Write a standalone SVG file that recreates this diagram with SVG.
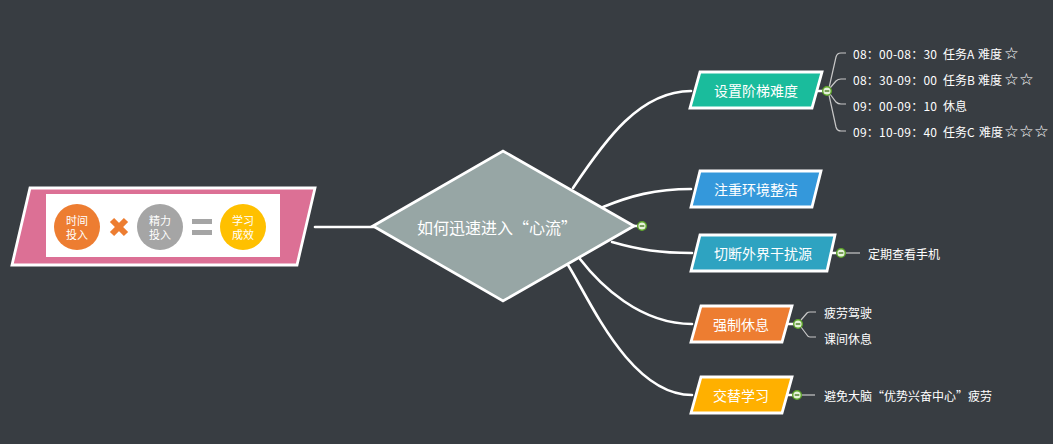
<svg xmlns="http://www.w3.org/2000/svg" width="1053" height="444" viewBox="0 0 1053 444">
<defs>
<style>
.bg{fill:#383d42}
.conn{fill:none;stroke:#ffffff;stroke-width:2.6;stroke-linecap:round}
.sub{fill:none;stroke:#c8c8c8;stroke-width:1.2}
.node{stroke:#ffffff;stroke-width:2.8;stroke-linejoin:miter}
.lbl{font-family:"Noto Sans CJK SC","Liberation Sans",sans-serif;font-size:14px;fill:#ffffff;text-anchor:middle;dominant-baseline:central}
.big{font-size:16px}
.leaf{font-family:"Noto Sans CJK SC","DejaVu Sans",sans-serif;font-size:12px;fill:#ffffff;dominant-baseline:central}
.star{font-family:"DejaVu Sans",sans-serif;font-size:16.5px}
.ctext{font-family:"Noto Sans CJK SC",sans-serif;font-size:11px;fill:#ffffff;text-anchor:middle;dominant-baseline:central}
.tog{fill:#e6f2da;stroke:#5ea62a;stroke-width:1.4}
.togm{stroke:#4a7a25;stroke-width:1.4}
</style>
<g id="toggle">
<circle class="tog" cx="0" cy="0" r="4.3"/>
<line class="togm" x1="-2.3" y1="0" x2="2.3" y2="0"/>
</g>
</defs>
<rect class="bg" x="0" y="0" width="1053" height="444"/>
<g id="connectors">
<line class="conn" x1="315" y1="227" x2="374" y2="227"/>
<path class="conn" d="M573,188 C605,140 640,91 691,91"/>
<path class="conn" d="M603,207 C630,196 655,189 691,189"/>
<path class="conn" d="M612,242 C640,250 660,253 692,253"/>
<path class="conn" d="M580,259 C600,285 640,324 692,324"/>
<path class="conn" d="M568,265 C590,300 630,395 692,395"/>
<line class="conn" x1="634" y1="226" x2="638" y2="226" stroke-width="1.5"/>
<line class="conn" x1="812" y1="91" x2="823" y2="91" stroke-width="1.5"/>
<line class="conn" x1="830" y1="253" x2="837" y2="253" stroke-width="1.5"/>
<line class="conn" x1="787" y1="324" x2="794" y2="324" stroke-width="1.5"/>
<line class="conn" x1="787" y1="395" x2="793" y2="395" stroke-width="1.5"/>
<path class="sub" d="M829,88 L836,57 Q837,53 841,53 L846,53"/>
<path class="sub" d="M830,88 L836,81 Q838,79 841,79 L846,79"/>
<path class="sub" d="M830,94 L836,102 Q838,104 841,104 L846,104"/>
<path class="sub" d="M829,95 L836,127 Q837,131 841,131 L846,131"/>
<line class="sub" x1="845" y1="253" x2="860" y2="253"/>
<path class="sub" d="M801,320 L807,313 Q808,312 810,312 L816,312"/>
<path class="sub" d="M801,327 L807,335 Q808,337 810,337 L816,337"/>
<line class="sub" x1="801" y1="395" x2="815" y2="395"/>
</g>
<g id="node-left">
<polygon class="node" points="30,188 315,188 297,265 12,265" fill="#dc7095"/>
<rect x="46" y="194" width="234" height="63" fill="#ffffff"/>
<circle cx="77" cy="227" r="23" fill="#ed7d31"/>
<text class="ctext" x="77" y="220">时间</text>
<text class="ctext" x="77" y="234">投入</text>
<g stroke="#ed7d31" stroke-width="6" stroke-linecap="butt">
<line x1="112" y1="220" x2="126" y2="234"/>
<line x1="126" y1="220" x2="112" y2="234"/>
</g>
<circle cx="160" cy="227" r="23" fill="#a5a5a5"/>
<text class="ctext" x="160" y="220">精力</text>
<text class="ctext" x="160" y="234">投入</text>
<rect x="192" y="219" width="20" height="5" fill="#a5a5a5"/>
<rect x="192" y="230" width="20" height="5" fill="#a5a5a5"/>
<circle cx="243" cy="227" r="23" fill="#ffc000"/>
<text class="ctext" x="243" y="220">学习</text>
<text class="ctext" x="243" y="234">成效</text>
</g>
<g id="node-center">
<polygon class="node" points="373,226 503,151 634,226 503,301" fill="#97a6a5"/>
<text class="lbl big" x="497" y="227">如何迅速进入“心流”</text>
<use href="#toggle" x="642" y="226"/>
</g>
<g id="node-1">
<polygon class="node" points="700,72 822,72 812,108 690,108" fill="#1abc9c"/>
<text class="lbl" x="756" y="90">设置阶梯难度</text>
<use href="#toggle" x="827" y="91"/>
</g>
<g id="leaf-1a"><text class="leaf" y="53"><tspan x="853" textLength="84" lengthAdjust="spacing">08：00-08：30</tspan><tspan x="943">任务A</tspan><tspan x="978">难度</tspan><tspan class="star" x="1004">☆</tspan></text></g>
<g id="leaf-1b"><text class="leaf" y="79"><tspan x="853" textLength="84" lengthAdjust="spacing">08：30-09：00</tspan><tspan x="943">任务B</tspan><tspan x="978">难度</tspan><tspan class="star" x="1004">☆</tspan><tspan class="star" x="1019">☆</tspan></text></g>
<g id="leaf-1c"><text class="leaf" y="105"><tspan x="853" textLength="84" lengthAdjust="spacing">09：00-09：10</tspan><tspan x="943">休息</tspan></text></g>
<g id="leaf-1d"><text class="leaf" y="131"><tspan x="853" textLength="84" lengthAdjust="spacing">09：10-09：40</tspan><tspan x="943">任务C</tspan><tspan x="979">难度</tspan><tspan class="star" x="1004">☆</tspan><tspan class="star" x="1019">☆</tspan><tspan class="star" x="1034">☆</tspan></text></g>
<g id="node-2">
<polygon class="node" points="700,171 821,171 812,207 691,207" fill="#3498db"/>
<text class="lbl" x="756" y="189">注重环境整洁</text>
</g>
<g id="node-3">
<polygon class="node" points="700,235 835,235 827,271 691,271" fill="#2ea3c1"/>
<text class="lbl" x="763" y="253">切断外界干扰源</text>
<use href="#toggle" x="841" y="253"/>
</g>
<g id="leaf-3a"><text class="leaf" x="868" y="253">定期查看手机</text></g>
<g id="node-4">
<polygon class="node" points="701,306 792,306 782,342 691,342" fill="#ed7d31"/>
<text class="lbl" x="741" y="324">强制休息</text>
<use href="#toggle" x="798" y="324"/>
</g>
<g id="leaf-4a"><text class="leaf" x="824" y="312">疲劳驾驶</text></g>
<g id="leaf-4b"><text class="leaf" x="824" y="338">课间休息</text></g>
<g id="node-5">
<polygon class="node" points="701,377 792,377 782,413 691,413" fill="#ffb000"/>
<text class="lbl" x="741" y="395">交替学习</text>
<use href="#toggle" x="797" y="395"/>
</g>
<g id="leaf-5a"><text class="leaf" x="824" y="395">避免大脑“优势兴奋中心”疲劳</text></g>
</svg>
